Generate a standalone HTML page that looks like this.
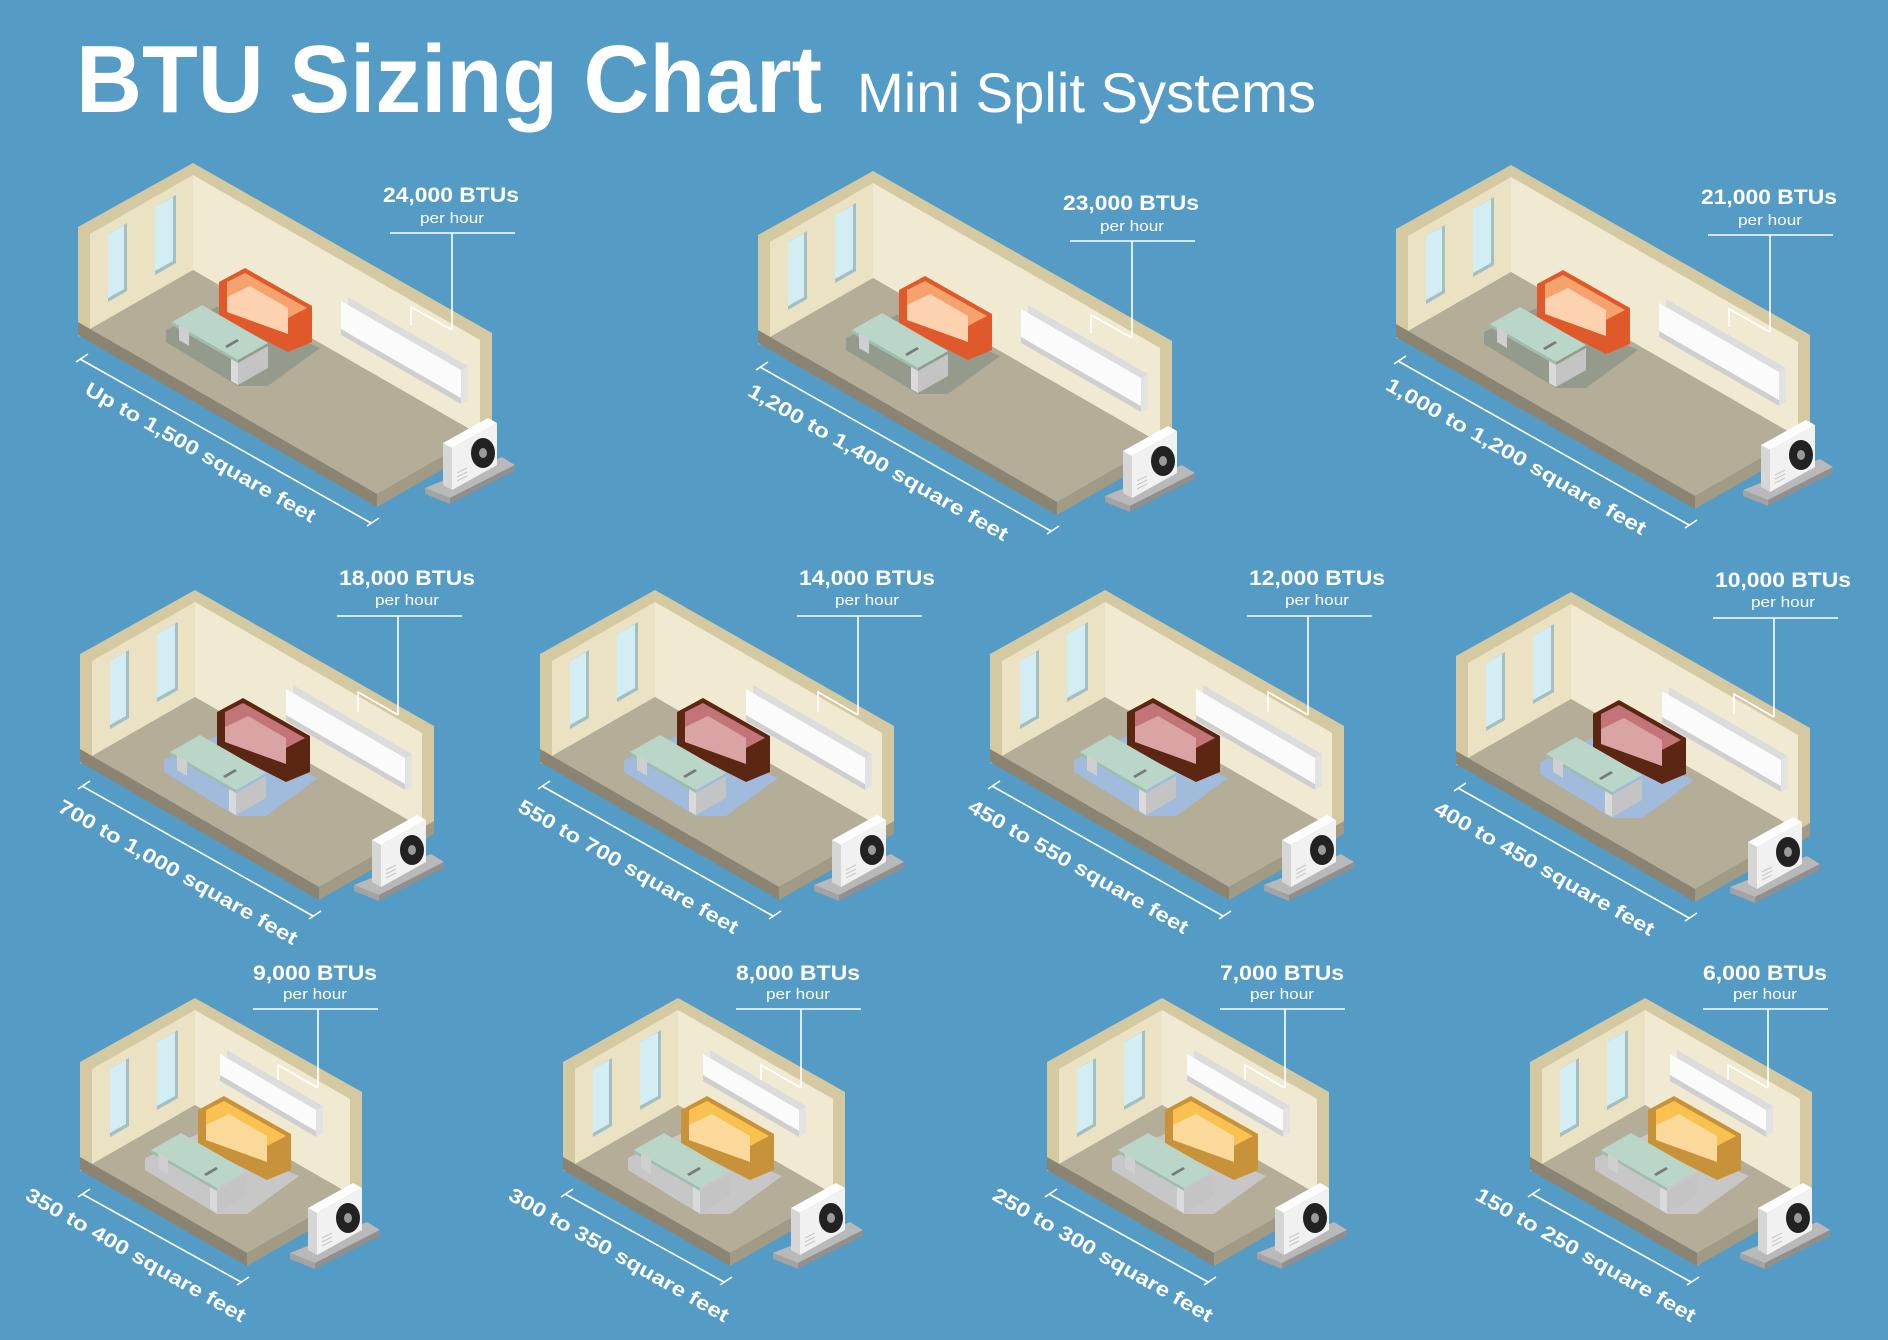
<!DOCTYPE html>
<html><head><meta charset="utf-8"><style>
html,body{margin:0;padding:0;background:#549bc5;}
svg{display:block;}
text{font-family:"Liberation Sans",sans-serif;fill:#fff;}
</style></head><body>
<svg width="1888" height="1340" viewBox="0 0 1888 1340" xmlns="http://www.w3.org/2000/svg">
<rect width="1888" height="1340" fill="#549bc5"/>
<defs>
<g id="wins">
 <polygon points="-66,-47 -85,-36 -85,32 -66,21" fill="#a3bfc1"/>
 <polygon points="-69,-45 -85,-36 -85,28 -69,19" fill="#d2edf3"/>
 <polygon points="-17,-75 -38,-63 -38,5 -17,-7" fill="#a3bfc1"/>
 <polygon points="-20,-73 -38,-63 -38,1 -20,-9" fill="#d2edf3"/>
</g>
<g id="table">
 <polygon points="-21,52 9,35 75,73 45,90" fill="#b9d6c8"/>
 <polygon points="-21,52 45,90 45,93 -21,55" fill="#9fbdae"/>
 <polygon points="-14,55 -4,61 -4,76 -14,70" fill="#cfcfcf"/>
 <polygon points="38,89 45,93 45,115 38,111" fill="#dadada"/>
 <polygon points="45,93 75,76 75,98 45,115" fill="#c4c4c4"/>
 <polygon points="32,76 44,69 46,71 34,78" fill="#7a7a7a"/>
</g>
<g id="unit">
 <polygon points="232,218 309,187 322,195 257,228" fill="#b9b9b9"/>
 <polygon points="232,218 257,228 257,234 232,224" fill="#a3a3a3"/>
 <polygon points="257,228 322,195 322,201 257,234" fill="#8f8f8f"/>
 <polygon points="250,173 259,178 259,220 250,215" fill="#d6d6d6"/>
 <polygon points="250,173 295,148 304,153 259,178" fill="#fdfdfd"/>
 <polygon points="259,178 304,153 304,195 259,220" fill="#f1f1f1"/>
 <ellipse cx="290" cy="183" rx="12" ry="15" fill="#222"/>
 <ellipse cx="290" cy="183" rx="4" ry="5" fill="#9a9a9a"/>
 <g stroke="#c9c9c9" stroke-width="1.2"><line x1="264" y1="203" x2="274" y2="198"/><line x1="264" y1="207" x2="274" y2="202"/><line x1="264" y1="211" x2="274" y2="206"/></g>
</g>

<!-- Template A -->
<g id="roomA">
 <polygon points="-115,-43 0,-107 299,63 299,170 -115,66" fill="#d5c9a2"/>
 <polygon points="0,0 0,-95 -103,-36 -103,59" fill="#ebe2c3"/>
 <polygon points="0,0 0,-95 287,70 287,165" fill="#f1ead3"/>
 <use href="#wins"/>
 <polygon points="0,0 -103,59 184,224 287,165" fill="#b4ad98"/>
 <polygon points="-115,52 184,224 184,237 -115,65" fill="#8b8473"/>
 <polygon points="184,224 299,158 299,171 184,237" fill="#a19a85"/>
 <polygon points="-27,60 28,35 127,78 75,116 45,116 -27,72" fill="#959b8c"/>
 <polygon points="26,12 52,-2 119,36 119,72 95,82 26,47" fill="#e0592a"/>
 <polygon points="34,12 52,3 114,38 95,48 34,27" fill="#f6a26d"/>
 <polygon points="34,27 57,16 95,38 95,64 34,42" fill="#fdd2b0"/>
 <use href="#table"/>
 <polygon points="155,27 275,96 275,130 155,61" fill="#dcdcdc"/>
 <polygon points="148,31 268,100 268,134 148,65" fill="#fbfbfb"/>
 <polygon points="148,59 268,128 268,134 148,65" fill="#cfcfcf"/>
 <polygon points="275,96 268,100 268,134 275,130" fill="#e2e2e2"/>
 <use href="#unit"/>
 <g stroke="#fff" stroke-width="1.6" fill="none">
  <line x1="197" y1="-37" x2="322" y2="-37"/>
  <line x1="259" y1="-37" x2="259" y2="60"/>
  <polyline points="218,55 218,37 259,60"/>
  <line x1="-113" y1="89" x2="178" y2="253"/>
  <line x1="-117" y1="92" x2="-105" y2="84"/>
  <line x1="174" y1="256" x2="186" y2="248"/>
 </g>
</g>

<!-- Template B -->
<g id="roomB">
 <polygon points="-115,-43 0,-107 239,29 239,136 -115,66" fill="#d5c9a2"/>
 <polygon points="0,0 0,-95 -103,-36 -103,59" fill="#ebe2c3"/>
 <polygon points="0,0 0,-95 227,36 227,131" fill="#f1ead3"/>
 <use href="#wins"/>
 <polygon points="0,0 -103,59 124,190 227,131" fill="#b4ad98"/>
 <polygon points="-115,52 124,190 124,203 -115,65" fill="#8b8473"/>
 <polygon points="124,190 239,124 239,137 124,203" fill="#a19a85"/>
 <g transform="translate(-4,3)">
  <polygon points="-27,60 28,35 127,78 75,116 45,116 -27,72" fill="#a1bbdc"/>
  <polygon points="26,12 52,-2 119,36 119,72 95,82 26,47" fill="#5b2612"/>
  <polygon points="34,12 52,3 114,38 95,48 34,27" fill="#c27479"/>
  <polygon points="34,27 57,16 95,38 95,64 34,42" fill="#daa3a4"/>
  <use href="#table"/>
 </g>
 <polygon points="98,-12 217,57 217,89 98,20" fill="#dcdcdc"/>
 <polygon points="91,-8 210,61 210,93 91,24" fill="#fbfbfb"/>
 <polygon points="91,18 210,87 210,93 91,24" fill="#cfcfcf"/>
 <polygon points="217,57 210,61 210,93 217,89" fill="#e2e2e2"/>
 <g transform="translate(-73,-30)"><use href="#unit"/></g>
 <g stroke="#fff" stroke-width="1.6" fill="none">
  <line x1="142" y1="-81" x2="267" y2="-81"/>
  <line x1="203" y1="-81" x2="203" y2="18"/>
  <polyline points="163,15 163,-5 203,18"/>
  <line x1="-113" y1="89" x2="118" y2="219"/>
  <line x1="-117" y1="92" x2="-105" y2="84"/>
  <line x1="114" y1="222" x2="126" y2="214"/>
 </g>
</g>

<!-- Template C -->
<g id="roomC">
 <polygon points="-115,-43 0,-107 167,-13 167,94 -115,66" fill="#d5c9a2"/>
 <polygon points="0,0 0,-95 -103,-36 -103,59" fill="#ebe2c3"/>
 <polygon points="0,0 0,-95 155,-6 155,89" fill="#f1ead3"/>
 <use href="#wins"/>
 <polygon points="0,0 -103,59 52,148 155,89" fill="#b4ad98"/>
 <polygon points="-115,52 52,148 52,161 -115,65" fill="#8b8473"/>
 <polygon points="52,148 167,82 167,95 52,161" fill="#a19a85"/>
 <g transform="translate(-23,-7)">
  <polygon points="-27,60 28,35 127,78 75,116 45,116 -27,72" fill="#c7c7c7"/>
  <polygon points="26,12 52,-2 119,36 119,72 95,82 26,47" fill="#c8923a"/>
  <polygon points="34,12 52,3 114,38 95,48 34,27" fill="#f9c150"/>
  <polygon points="34,27 57,16 95,38 95,64 34,42" fill="#fbd99a"/>
  <use href="#table"/>
 </g>
 <polygon points="32,-55 128,1 128,28 32,-28" fill="#dcdcdc"/>
 <polygon points="25,-51 121,5 121,32 25,-24" fill="#fbfbfb"/>
 <polygon points="25,-30 121,26 121,32 25,-24" fill="#cfcfcf"/>
 <polygon points="128,1 121,5 121,32 128,28" fill="#e2e2e2"/>
 <g transform="translate(-137,-70)"><use href="#unit"/></g>
 <g stroke="#fff" stroke-width="1.6" fill="none">
  <line x1="58" y1="-96" x2="183" y2="-96"/>
  <line x1="123" y1="-96" x2="123" y2="-17"/>
  <polyline points="83,-25 83,-40 123,-17"/>
  <line x1="-113" y1="89" x2="46" y2="177"/>
  <line x1="-117" y1="92" x2="-105" y2="84"/>
  <line x1="42" y1="180" x2="54" y2="172"/>
 </g>
</g>
</defs>

<!-- Title -->
<text x="76" y="112" font-size="96" font-weight="bold" textLength="746" lengthAdjust="spacingAndGlyphs">BTU Sizing Chart</text>
<text x="857" y="112" font-size="56" textLength="459" lengthAdjust="spacingAndGlyphs">Mini Split Systems</text>

<!-- Row 1 -->
<g transform="translate(193,270)"><use href="#roomA"/>
 <text x="258" y="-68" font-size="21" font-weight="bold" text-anchor="middle" textLength="136" lengthAdjust="spacingAndGlyphs">24,000 BTUs</text>
 <text x="259" y="-47" font-size="15" text-anchor="middle" textLength="64" lengthAdjust="spacingAndGlyphs">per hour</text>
 <text transform="translate(-113,89) rotate(29.7)" x="20" y="28" font-size="20" font-weight="bold" textLength="262" lengthAdjust="spacingAndGlyphs">Up to 1,500 square feet</text>
</g>
<g transform="translate(873,278)"><use href="#roomA"/>
 <text x="258" y="-68" font-size="21" font-weight="bold" text-anchor="middle" textLength="136" lengthAdjust="spacingAndGlyphs">23,000 BTUs</text>
 <text x="259" y="-47" font-size="15" text-anchor="middle" textLength="64" lengthAdjust="spacingAndGlyphs">per hour</text>
 <text transform="translate(-113,89) rotate(29.7)" x="2" y="31" font-size="20" font-weight="bold" textLength="296" lengthAdjust="spacingAndGlyphs">1,200 to 1,400 square feet</text>
</g>
<g transform="translate(1511,272)"><use href="#roomA"/>
 <text x="258" y="-68" font-size="21" font-weight="bold" text-anchor="middle" textLength="136" lengthAdjust="spacingAndGlyphs">21,000 BTUs</text>
 <text x="259" y="-47" font-size="15" text-anchor="middle" textLength="64" lengthAdjust="spacingAndGlyphs">per hour</text>
 <text transform="translate(-113,89) rotate(29.7)" x="2" y="31" font-size="20" font-weight="bold" textLength="296" lengthAdjust="spacingAndGlyphs">1,000 to 1,200 square feet</text>
</g>

<!-- Row 2 -->
<g transform="translate(195,697)"><use href="#roomB"/>
 <text x="212" y="-112" font-size="21" font-weight="bold" text-anchor="middle" textLength="136" lengthAdjust="spacingAndGlyphs">18,000 BTUs</text>
 <text x="212" y="-92" font-size="15" text-anchor="middle" textLength="64" lengthAdjust="spacingAndGlyphs">per hour</text>
 <text transform="translate(-113,89) rotate(29.7)" x="-10" y="34" font-size="20" font-weight="bold" textLength="272" lengthAdjust="spacingAndGlyphs">700 to 1,000 square feet</text>
</g>
<g transform="translate(655,697)"><use href="#roomB"/>
 <text x="212" y="-112" font-size="21" font-weight="bold" text-anchor="middle" textLength="136" lengthAdjust="spacingAndGlyphs">14,000 BTUs</text>
 <text x="212" y="-92" font-size="15" text-anchor="middle" textLength="64" lengthAdjust="spacingAndGlyphs">per hour</text>
 <text transform="translate(-113,89) rotate(29.7)" x="-10" y="34" font-size="20" font-weight="bold" textLength="250" lengthAdjust="spacingAndGlyphs">550 to 700 square feet</text>
</g>
<g transform="translate(1105,697)"><use href="#roomB"/>
 <text x="212" y="-112" font-size="21" font-weight="bold" text-anchor="middle" textLength="136" lengthAdjust="spacingAndGlyphs">12,000 BTUs</text>
 <text x="212" y="-92" font-size="15" text-anchor="middle" textLength="64" lengthAdjust="spacingAndGlyphs">per hour</text>
 <text transform="translate(-113,89) rotate(29.7)" x="-10" y="34" font-size="20" font-weight="bold" textLength="250" lengthAdjust="spacingAndGlyphs">450 to 550 square feet</text>
</g>
<g transform="translate(1571,699)"><use href="#roomB"/>
 <text x="212" y="-112" font-size="21" font-weight="bold" text-anchor="middle" textLength="136" lengthAdjust="spacingAndGlyphs">10,000 BTUs</text>
 <text x="212" y="-92" font-size="15" text-anchor="middle" textLength="64" lengthAdjust="spacingAndGlyphs">per hour</text>
 <text transform="translate(-113,89) rotate(29.7)" x="-10" y="34" font-size="20" font-weight="bold" textLength="250" lengthAdjust="spacingAndGlyphs">400 to 450 square feet</text>
</g>

<!-- Row 3 -->
<g transform="translate(195,1105)"><use href="#roomC"/>
 <text x="120" y="-125" font-size="21" font-weight="bold" text-anchor="middle" textLength="124" lengthAdjust="spacingAndGlyphs">9,000 BTUs</text>
 <text x="120" y="-106" font-size="15" text-anchor="middle" textLength="64" lengthAdjust="spacingAndGlyphs">per hour</text>
 <text transform="translate(-113,89) rotate(29.7)" x="-48" y="33" font-size="20" font-weight="bold" textLength="250" lengthAdjust="spacingAndGlyphs">350 to 400 square feet</text>
</g>
<g transform="translate(678,1105)"><use href="#roomC"/>
 <text x="120" y="-125" font-size="21" font-weight="bold" text-anchor="middle" textLength="124" lengthAdjust="spacingAndGlyphs">8,000 BTUs</text>
 <text x="120" y="-106" font-size="15" text-anchor="middle" textLength="64" lengthAdjust="spacingAndGlyphs">per hour</text>
 <text transform="translate(-113,89) rotate(29.7)" x="-48" y="33" font-size="20" font-weight="bold" textLength="250" lengthAdjust="spacingAndGlyphs">300 to 350 square feet</text>
</g>
<g transform="translate(1162,1105)"><use href="#roomC"/>
 <text x="120" y="-125" font-size="21" font-weight="bold" text-anchor="middle" textLength="124" lengthAdjust="spacingAndGlyphs">7,000 BTUs</text>
 <text x="120" y="-106" font-size="15" text-anchor="middle" textLength="64" lengthAdjust="spacingAndGlyphs">per hour</text>
 <text transform="translate(-113,89) rotate(29.7)" x="-48" y="33" font-size="20" font-weight="bold" textLength="250" lengthAdjust="spacingAndGlyphs">250 to 300 square feet</text>
</g>
<g transform="translate(1645,1105)"><use href="#roomC"/>
 <text x="120" y="-125" font-size="21" font-weight="bold" text-anchor="middle" textLength="124" lengthAdjust="spacingAndGlyphs">6,000 BTUs</text>
 <text x="120" y="-106" font-size="15" text-anchor="middle" textLength="64" lengthAdjust="spacingAndGlyphs">per hour</text>
 <text transform="translate(-113,89) rotate(29.7)" x="-48" y="33" font-size="20" font-weight="bold" textLength="250" lengthAdjust="spacingAndGlyphs">150 to 250 square feet</text>
</g>
</svg>
</body></html>
